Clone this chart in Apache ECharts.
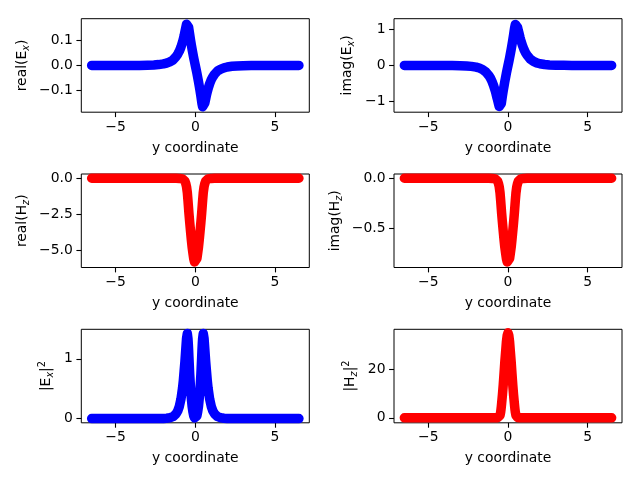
<!DOCTYPE html>
<html>
<head>
<meta charset="utf-8">
<script src="https://cdn.jsdelivr.net/npm/echarts@6/dist/echarts.min.js"></script>
<style>
  html, body { margin: 0; padding: 0; background: #fff; }
  #chart { width: 640px; height: 480px; }
</style>
</head>
<body>
<div id="chart"></div>
<script>
// y coordinate samples (denser near the core where the fields change fast)
var yCoord = [-6.5, -6, -5.5, -5, -4.5, -4, -3.5, -3,
  -2.6, -2.3, -2, -1.8, -1.6, -1.4, -1.2, -1.1, -1,
  -0.9, -0.8, -0.75, -0.7, -0.65, -0.6, -0.55, -0.5,
  -0.46, -0.44, -0.42, -0.4, -0.35, -0.3, -0.25, -0.2, -0.15, -0.1, -0.05,
  0,
  0.05, 0.1, 0.15, 0.2, 0.25, 0.3, 0.35, 0.4, 0.42, 0.44, 0.46,
  0.5, 0.55, 0.6, 0.65, 0.7, 0.75, 0.8, 0.9,
  1, 1.1, 1.2, 1.4, 1.6, 1.8, 2, 2.3, 2.6,
  3, 3.5, 4, 4.5, 5, 5.5, 6, 6.5];

var reEx = [0, 0, 0, 0, 0, 0, 0.0003, 0.0009,
  0.0019, 0.0034, 0.0062, 0.0095, 0.0146, 0.022, 0.036, 0.046, 0.058,
  0.074, 0.095, 0.107, 0.12, 0.136, 0.151, 0.167, 0.172,
  0.167, 0.162, 0.155, 0.146, 0.124, 0.103, 0.084, 0.065, 0.048, 0.031, 0.0155,
  0,
  -0.0155, -0.031, -0.048, -0.065, -0.084, -0.103, -0.124, -0.146, -0.155, -0.162, -0.167,
  -0.172, -0.167, -0.151, -0.136, -0.12, -0.107, -0.095, -0.074,
  -0.058, -0.046, -0.036, -0.022, -0.0146, -0.0095, -0.0062, -0.0034, -0.0019,
  -0.0009, -0.0003, 0, 0, 0, 0, 0, 0];

var imEx = [0, 0, 0, 0, 0, -0.0009, -0.0024, -0.0059,
  -0.014, -0.026, -0.047, -0.071, -0.112, -0.177, -0.283, -0.354, -0.448,
  -0.566, -0.708, -0.791, -0.885, -0.968, -1.062, -1.145, -1.18,
  -1.145, -1.109, -1.062, -1.003, -0.85, -0.708, -0.578, -0.448, -0.33, -0.212, -0.106,
  0,
  0.106, 0.212, 0.33, 0.448, 0.578, 0.708, 0.85, 1.003, 1.062, 1.109, 1.145,
  1.18, 1.145, 1.062, 0.968, 0.885, 0.791, 0.708, 0.566,
  0.448, 0.354, 0.283, 0.177, 0.112, 0.071, 0.047, 0.026, 0.014,
  0.0059, 0.0024, 0.0009, 0, 0, 0, 0, 0];

var reHz = [0, 0, 0, 0, 0, 0, 0, 0,
  0, 0, 0, 0, 0, 0, 0, 0, -0.009,
  -0.024, -0.047, -0.071, -0.118, -0.207, -0.355, -0.592, -1.006,
  -1.539, -1.835, -2.131, -2.427, -3.078, -3.67, -4.262, -4.795, -5.21, -5.594, -5.83,
  -5.92,
  -5.83, -5.594, -5.21, -4.795, -4.262, -3.67, -3.078, -2.427, -2.131, -1.835, -1.539,
  -1.006, -0.592, -0.355, -0.207, -0.118, -0.071, -0.047, -0.024,
  -0.009, 0, 0, 0, 0, 0, 0, 0, 0,
  0, 0, 0, 0, 0, 0, 0, 0];

var imHz = [0, 0, 0, 0, 0, 0, 0, 0,
  0, 0, 0, 0, 0, 0, 0, 0, -0.0013,
  -0.0034, -0.0068, -0.0102, -0.017, -0.03, -0.051, -0.085, -0.145,
  -0.221, -0.264, -0.306, -0.349, -0.442, -0.527, -0.612, -0.689, -0.748, -0.803, -0.837,
  -0.85,
  -0.837, -0.803, -0.748, -0.689, -0.612, -0.527, -0.442, -0.349, -0.306, -0.264, -0.221,
  -0.145, -0.085, -0.051, -0.03, -0.017, -0.0102, -0.0068, -0.0034,
  -0.0013, 0, 0, 0, 0, 0, 0, 0, 0,
  0, 0, 0, 0, 0, 0, 0, 0];

var absEx2 = [0, 0, 0, 0, 0, 0, 0, 0,
  0.0002, 0.0007, 0.0022, 0.0051, 0.0127, 0.0318, 0.0814, 0.1274, 0.2041,
  0.3259, 0.5103, 0.6371, 0.7976, 0.9555, 1.1506, 1.3389, 1.422,
  1.3389, 1.2561, 1.1518, 1.0273, 0.7379, 0.5119, 0.3412, 0.2049, 0.1112, 0.0459, 0.0115,
  0,
  0.0115, 0.0459, 0.1112, 0.2049, 0.3412, 0.5119, 0.7379, 1.0273, 1.1518, 1.2561, 1.3389,
  1.422, 1.3389, 1.1506, 0.9555, 0.7976, 0.6371, 0.5103, 0.3259,
  0.2041, 0.1274, 0.0814, 0.0318, 0.0127, 0.0051, 0.0022, 0.0007, 0.0002,
  0, 0, 0, 0, 0, 0, 0, 0];

var absHz2 = [0, 0, 0, 0, 0, 0, 0, 0,
  0, 0, 0, 0, 0, 0, 0, 0, 0.0001,
  0.0006, 0.0022, 0.005, 0.014, 0.043, 0.126, 0.35, 1.01,
  2.37, 3.36, 4.54, 5.88, 9.46, 13.45, 18.14, 22.96, 27.1, 31.26, 33.96,
  35.0,
  33.96, 31.26, 27.1, 22.96, 18.14, 13.45, 9.46, 5.88, 4.54, 3.36, 2.37,
  1.01, 0.35, 0.126, 0.043, 0.014, 0.005, 0.0022, 0.0006,
  0.0001, 0, 0, 0, 0, 0, 0, 0, 0,
  0, 0, 0, 0, 0, 0, 0, 0];

// tick labels
var xTicks = [-5, 0, 5];
var reExTicks = [-0.1, 0, 0.1];
var imExTicks = [-1, 0, 1];
var reHzTicks = [-5, -2.5, 0];
var imHzTicks = [-0.5, 0];
var absEx2Ticks = [0, 1];
var absHz2Ticks = [0, 20];

var FONT = 'DejaVu Sans';
var BLUE = '#0000ff', RED = '#ff0000';

var panels = [
  {data: reEx, color: BLUE, name: 'real(E{s|x})', ticks: reExTicks, dec: 1, min: -0.189, max: 0.189, left: 81.3, top: 18.7, gap: 50},
  {data: imEx, color: BLUE, name: 'imag(E{s|x})', ticks: imExTicks, dec: 0, min: -1.305, max: 1.305, left: 394, top: 18.7, gap: 38},
  {data: reHz, color: RED, name: 'real(H{s|z})', ticks: reHzTicks, dec: 1, min: -6.216, max: 0.296, left: 81.3, top: 174, gap: 50},
  {data: imHz, color: RED, name: 'imag(H{s|z})', ticks: imHzTicks, dec: 1, min: -0.8925, max: 0.0425, left: 394, top: 174, gap: 50},
  {data: absEx2, color: BLUE, name: '|E{s|x}|{p|2}', ticks: absEx2Ticks, dec: 0, min: -0.0711, max: 1.4931, left: 81.3, top: 329.3, gap: 26},
  {data: absHz2, color: RED, name: '|H{s|z}|{p|2}', ticks: absHz2Ticks, dec: 0, min: -2.05, max: 36.45, left: 394, top: 329.3, gap: 35}
];

function fmt(dec) {
  return function (v) {
    var s = Math.abs(v).toFixed(dec);
    return v < 0 ? '\u2212' + s : s;
  };
}

var grids = [], xAxes = [], yAxes = [], series = [];
panels.forEach(function (p, i) {
  grids.push({
    left: p.left, top: p.top, width: 228, height: 93.5,
    show: true, borderColor: '#000', borderWidth: 1, backgroundColor: 'transparent'
  });
  xAxes.push({
    type: 'value', gridIndex: i, min: -7.15, max: 7.15,
    name: 'y coordinate', nameLocation: 'middle', nameGap: 29,
    nameTextStyle: {fontFamily: FONT, fontSize: 13.9, color: '#000'},
    axisLine: {show: false, onZero: false},
    axisTick: {show: true, customValues: xTicks, length: 4.9, lineStyle: {color: '#000', width: 1.1}},
    axisLabel: {customValues: xTicks, margin: 8, fontFamily: FONT, fontSize: 13.9, color: '#000', formatter: fmt(0)},
    splitLine: {show: false}
  });
  yAxes.push({
    type: 'value', gridIndex: i, min: p.min, max: p.max,
    name: p.name, nameLocation: 'middle', nameRotate: 90, nameGap: p.gap,
    nameTextStyle: {
      fontFamily: FONT, fontSize: 13.9, color: '#000', lineHeight: 18,
      rich: {
        s: {fontFamily: FONT, fontSize: 9.7, fontStyle: 'italic', color: '#000', lineHeight: 10, verticalAlign: 'bottom'},
        p: {fontFamily: FONT, fontSize: 9.7, color: '#000', lineHeight: 8, verticalAlign: 'top'}
      }
    },
    axisLine: {show: false, onZero: false},
    axisTick: {show: true, customValues: p.ticks, length: 4.9, lineStyle: {color: '#000', width: 1.1}},
    axisLabel: {customValues: p.ticks, margin: 8.5, fontFamily: FONT, fontSize: 13.9, color: '#000', formatter: fmt(p.dec)},
    splitLine: {show: false}
  });
  series.push({
    type: 'line', xAxisIndex: i, yAxisIndex: i,
    data: yCoord.map(function (y, k) { return [y, p.data[k]]; }),
    showSymbol: false, clip: true, silent: true,
    lineStyle: {color: p.color, width: 9.5, cap: 'round', join: 'round'}
  });
});

var chart = echarts.init(document.getElementById('chart'));
chart.setOption({
  animation: false,
  backgroundColor: '#fff',
  grid: grids,
  xAxis: xAxes,
  yAxis: yAxes,
  series: series
});
</script>
</body>
</html>
